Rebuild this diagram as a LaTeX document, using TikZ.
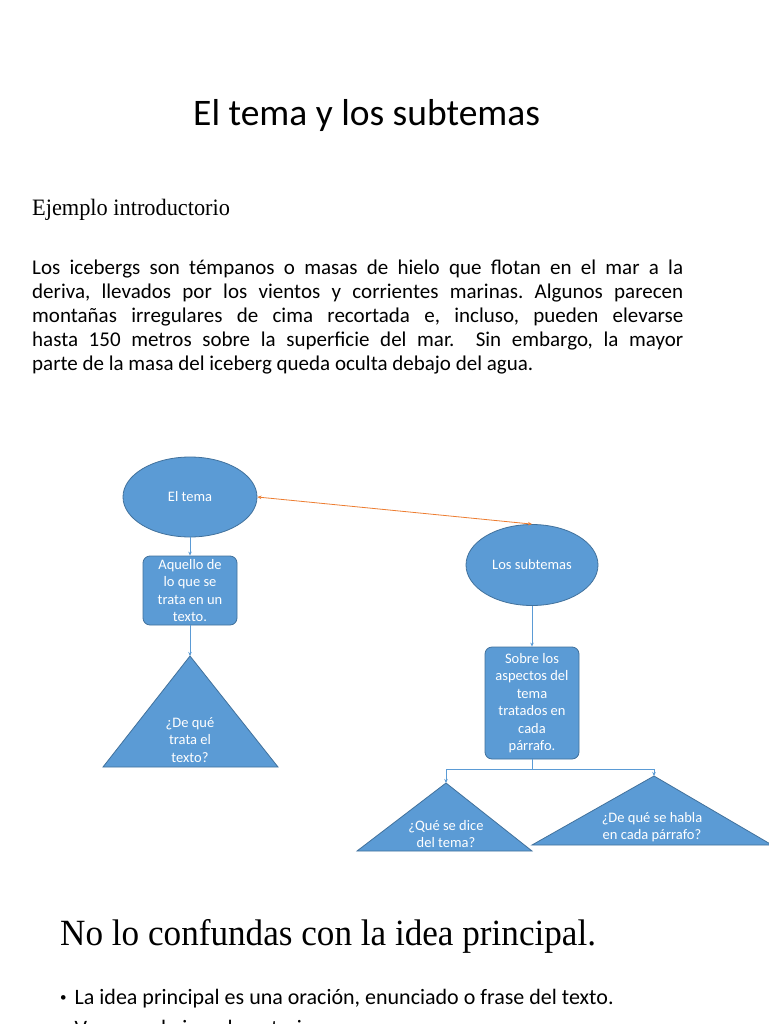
\documentclass[tikz,border=0pt]{standalone}
\usepackage{fontspec}
\setmainfont{Liberation Serif}
\newfontfamily\tnr{Liberation Serif}[FakeStretch=0.95]
\newfontfamily\calib{Carlito}
\usetikzlibrary{shapes.geometric,arrows.meta}
\definecolor{obl}{HTML}{5B9BD5}
\definecolor{obd}{HTML}{41719C}
\definecolor{oor}{HTML}{ED7D31}
\frenchspacing
\newcommand{\smallbullet}{\raisebox{2.5pt}{\fontsize{13}{13}\selectfont•}}
\tikzset{
  shapefill/.style={fill=obl, draw=obd, line width=0.8pt},
  ovalbox/.style={shapefill, ellipse, inner sep=0pt, text=white, font=\calib\fontsize{14.5}{17}\selectfont},
  roundbox/.style={shapefill, rectangle, rounded corners=7pt, inner sep=0pt, text=white, align=center, font=\calib\fontsize{14.5}{17.5}\selectfont},
  tritext/.style={text=white, align=center, inner sep=0pt, font=\calib\fontsize{14.5}{17.5}\selectfont},
  conn/.style={draw=obl, line width=0.8pt, -{Stealth[length=4pt,width=3.5pt]}},
  linkarrow/.style={draw=oor, line width=0.8pt, {Stealth[length=4pt,width=3.5pt]}-{Stealth[length=4pt,width=3.5pt]}},
  linetext/.style={anchor=base west, inner sep=0pt},
}
\begin{document}
\begin{tikzpicture}[x=1pt,y=-1pt]
\useasboundingbox[fill=white] (0,0) rectangle (768,1024);

% title and texts
\node[linetext, font=\calib\fontsize{37.5}{44}\selectfont] (title) at (193,126) {El tema y los subtemas};
\node[linetext, font=\tnr\fontsize{23.5}{28}\selectfont] (ej) at (32,215) {Ejemplo introductorio};
\node[anchor=north west, inner sep=0pt, text width=651pt, align=justify, font=\calib\fontsize{21}{24}\selectfont] (para) at (32,260)
{Los icebergs son témpanos o masas de hielo que flotan en el mar a la\linebreak
deriva, llevados por los vientos y corrientes marinas. Algunos parecen\linebreak
montañas irregulares de cima recortada e, incluso, pueden elevarse\linebreak
hasta 150 metros sobre la superficie del mar.\ \ Sin embargo, la mayor\linebreak
parte de la masa del iceberg queda oculta debajo del agua.};

% left branch
\node[ovalbox, minimum width=134pt, minimum height=80pt] (tema) at (190,497) {El tema};
\node[roundbox, minimum width=94pt, minimum height=69pt] (r1) at (190,590.5) {Aquello de\\lo que se\\trata en un\\texto.};
\coordinate (t1a) at (190,656);
\coordinate (t1r) at (278,767);
\coordinate (t1l) at (103,767);
\path[shapefill] (t1a) -- (t1r) -- (t1l) -- cycle;
\node[tritext] (t1) at (190,740) {¿De qué\\trata el\\texto?};

% right branch
\node[ovalbox, minimum width=132pt, minimum height=81pt] (sub) at (532,565) {Los subtemas};
\node[roundbox, minimum width=94pt, minimum height=112pt] (r2) at (532,703) {Sobre los\\aspectos del\\tema\\tratados en\\cada\\párrafo.};

\coordinate (t2a) at (446,783);
\coordinate (t2r) at (532,851);
\coordinate (t2l) at (357,851);
\path[shapefill] (t2a) -- (t2r) -- (t2l) -- cycle;
\node[tritext] (t2) at (446,834) {¿Qué se dice\\del tema?};

\coordinate (t3a) at (654,776);
\coordinate (t3r) at (772,845);
\coordinate (t3l) at (532,845);
\path[shapefill] (t3a) -- (t3r) -- (t3l) -- cycle;
\node[tritext] (t3) at (652,827) {¿De qué se habla\\en cada párrafo?};

% connectors
\draw[conn] (tema.south) -- (r1.north);
\draw[conn] (r1.south) -- (t1a);
\draw[conn] (sub.south) -- (r2.north);
\coordinate (bj) at (532,769);
\draw[conn] (r2.south) -- (bj) -| (t2a);
\draw[conn] (bj) -| (t3a);
\draw[linkarrow] (tema.east) -- (sub.north);

% bottom texts
\node[linetext, font=\tnr\fontsize{37}{44}\selectfont] (conf) at (60,945) {No lo confundas con la idea principal.};
\node[linetext, font=\calib\fontsize{22}{26}\selectfont] (b1) at (60,1004) {\smallbullet\hspace{8pt}La idea principal es una oración, enunciado o frase del texto.};
\node[linetext, font=\calib\fontsize{22}{26}\selectfont] (b2) at (60,1035) {\smallbullet\hspace{8pt}Veamos el ejemplo anterior.};
\end{tikzpicture}
\end{document}
